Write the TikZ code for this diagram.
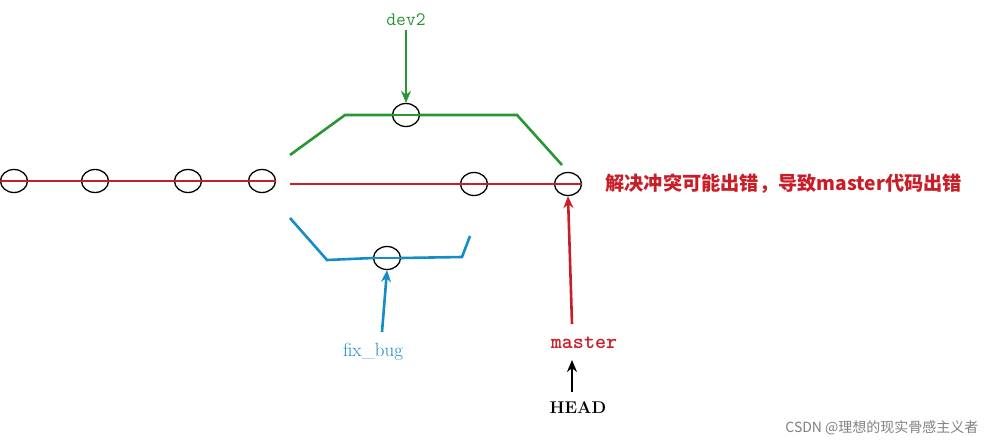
\documentclass[tikz,border=0pt]{standalone}
\usepackage{fontspec}
\newfontfamily\cjk{Noto Sans CJK SC}
\usetikzlibrary{shapes.geometric,arrows.meta}
\definecolor{rd}{RGB}{200,30,40}
\definecolor{gn}{RGB}{40,150,50}
\definecolor{bl}{RGB}{20,140,200}
\tikzset{commit/.style={ellipse,draw=black,line width=1.3pt,fill=white,minimum width=27pt,minimum height=23pt,inner sep=0pt},
br/.style={line width=2.6pt},
ar/.style={line width=2.6pt,-{Stealth[length=12pt,width=10pt]}}}
\begin{document}
\begin{tikzpicture}[x=1pt,y=-1pt]
\useasboundingbox (0,0) rectangle (985,447);
\foreach \n/\x/\y/\c in {a/14/181/rd,b/95/181/rd,c/188/181/rd,d/262/181/rd,e/474/184/rd,f/568/184/rd,g/406/115/gn,h/387/258/bl}{
 \node[commit] (\n) at (\x,\y) {};
}
\coordinate (r0) at (0,181);
\coordinate (r1) at (290,184);
\coordinate (g0) at (290,155);
\coordinate (g1) at (345,115);
\coordinate (g2) at (517,115);
\coordinate (g3) at (562,165);
\coordinate (b0) at (290,218);
\coordinate (b1) at (327,260);
\coordinate (b2) at (462,257);
\coordinate (b3) at (470,236);
\draw[br,rd] (r0) -- (a.west);
\draw[br,rd] (a.east) -- (b.west) (b.east) -- (c.west) (c.east) -- (d.west);
\draw[br,rd] (r1) -- (e.west) (e.east) -- (f.west);
\draw[br,gn] (g0) -- (g1) -- (g.west) (g.east) -- (g2) -- (g3);
\draw[br,bl] (b0) -- (b1) -- (h.west) (h.east) -- (b2) -- (b3);
\foreach \n/\c in {a/rd,b/rd,c/rd,d/rd,e/rd,f/rd,g/gn,h/bl}{
 \draw[line width=1.3pt,\c] (\n.west) -- (\n.east);
}
\node[text=rd,font=\cjk\bfseries\fontsize{19.2}{22}\selectfont,anchor=west] (t) at (602,184) {解决冲突可能出错，导致master代码出错};
\node[text=gn,font=\ttfamily\fontsize{19}{21}\selectfont] (dev) at (406,20) {dev2};
\node[text=bl,font=\fontsize{19}{21}\selectfont] (fix) at (373,352) {fix\_bug};
\coordinate (fa) at (382,332);
\node[text=rd,font=\ttfamily\bfseries\fontsize{21}{23}\selectfont] (m) at (584,343) {master};
\node[text=black,font=\bfseries\fontsize{17}{19}\selectfont] (hd) at (578,408) {HEAD};
\node[text=gray,font=\cjk\fontsize{14}{16}\selectfont,anchor=east] (wm) at (982,428) {CSDN @理想的现实骨感主义者};
\draw[ar,gn] (dev.south) -- (g.north);
\draw[ar,bl] (fa) -- (h.south);
\draw[ar,rd] (572,324) -- (f.south);
\draw[ar,black] (572,392) -- (572,360);
\end{tikzpicture}
\end{document}
